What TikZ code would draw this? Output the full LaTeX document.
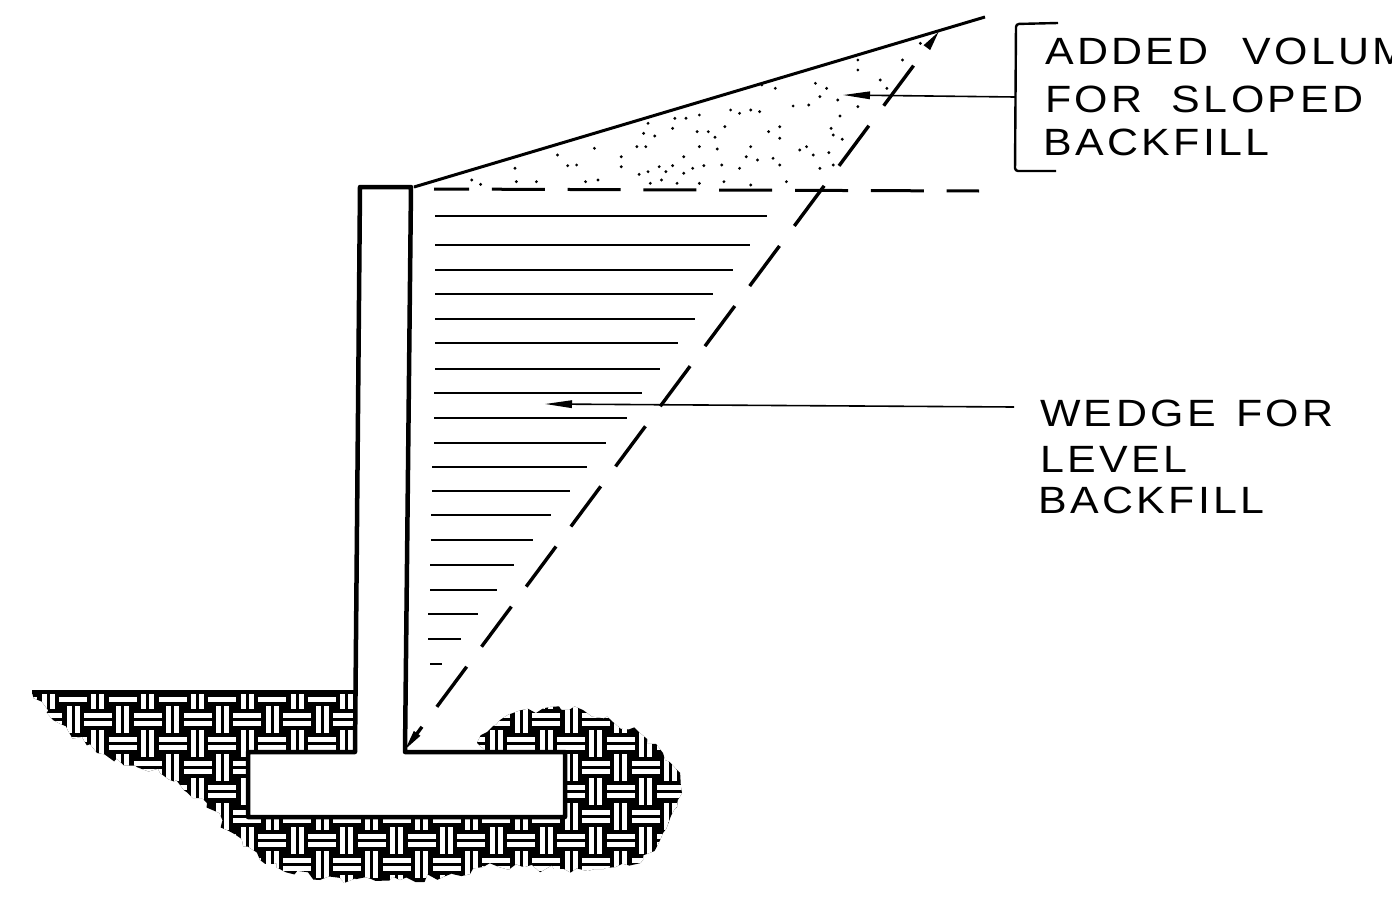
\documentclass[tikz,border=0pt]{standalone}
\usepackage{fontspec}
\setmainfont{Liberation Sans}
\usetikzlibrary{arrows.meta,decorations.pathmorphing}
\newfontfamily\labelfont[FakeStretch=1.13,LetterSpace=9]{Liberation Sans}
\tikzset{
  label text/.style={anchor=base west,inner sep=0pt,outer sep=0pt,font=\labelfont\fontsize{38}{38}\selectfont},
  hatch line/.style={line width=2pt},
  heavy line/.style={line width=4.5pt,line join=round},
  leader/.style={line width=1.6pt,-{Stealth[length=27pt,width=7.5pt,inset=0pt]}},
  wedge edge/.style={line width=3.4pt,dash pattern=on 50pt off 24.9pt,dash phase=41pt,
     {Stealth[length=22pt,width=7pt,inset=0pt]}-{Stealth[length=22pt,width=7pt,inset=0pt]}},
  level line/.style={line width=3pt,dash pattern=on 53pt off 22.8pt,dash phase=18pt},
  bracket line/.style={line width=2.4pt,line join=round,rounded corners=3pt},
  rough edge/.style={decoration={random steps,segment length=7pt,amplitude=4pt}},
}
\begin{document}
\begin{tikzpicture}[x=1pt,y=-1pt]
\useasboundingbox (0,0) rectangle (1392,899);
\clip (0,0) rectangle (1392,899);
\pgfmathsetseed{4242}
% soil
\begin{scope}
\path[clip] (565,752)--(487,752)--(477,743) decorate[rough edge]{--(487,732)--(500,720)--(513,713)--(550,707)--(583,710)--(613,722)--(640,733)--(663,753)--(677,770)--(682,793)--(677,807)--(663,833)--(643,860)--(583,870)--(483,867)--(443,877)--(400,880)--(320,880)--(260,860)--(227,830)--(207,803)--(160,773)--(97,753)--(53,720)--(32,692)}--(355,692)--(355,752)--(248,752)--(248,817)--(565,817)--cycle;
\fill[black] (0,680) rectangle (700,890);
\foreach \r in {0,...,8}{
  \foreach \c in {-2,...,26}{
    \pgfmathsetmacro\cx{73+24.9*\c}
    \pgfmathsetmacro\cy{695+24.2*\r}
    \pgfmathtruncatemacro\cellkind{mod(\r+\c+100,2)}
    \ifnum\cellkind=0
      \fill[white] (\cx-14,\cy-6.5) rectangle (\cx+14,\cy-1.5);
      \fill[white] (\cx-14,\cy+1.5) rectangle (\cx+14,\cy+6.5);
    \else
      \fill[white] (\cx-6.5,\cy-13.5) rectangle (\cx-1.5,\cy+13.5);
      \fill[white] (\cx+1.5,\cy-13.5) rectangle (\cx+6.5,\cy+13.5);
    \fi
  }
}
\end{scope}
% wall and footing
\draw[heavy line] (360,187)--(411,187)--(405,752)--(565,752)--(565,817)--(248,817)--(248,752)--(355,752)--cycle;
\draw[line width=3.6pt] (32,692)--(355,692);
% slope
\draw[line width=3pt] (414,187)--(985,17);
% stipple
\foreach \a/\b in {295/540,315/553,392/505,395/545,440/545,487/465,510/497,530/495,570/445,550/545,578/540,630/470,630/500,670/523,690/515,665/440,685/440,680/400,705/408,745/385,750/355,775/355,805/345,800/395,825/395,862/380,840/412,805/440,845/447,770/470,745/497,730/515,715/500,790/505,815/497,855/495,895/505,920/440,910/470,935/480,970/475,985/495,960/395,985/380,985/415,875/330,895/340,920/330,940/335,1015/318,1050/315,1075/290,1115/300,1065/250,1090/265,975/265,945/255,1120/348,1100/385,1105/405,1125/418,1030/450,1045/440,1060/465,1095/458,1105/495,1075/505,1160/180,1160/210,1260/180,1210/240,1225/265,1160/320,1300/130,720/540,695/550,755/550,805/550,860/545,920/555,1000/545,690/370,770/520}
  \fill ({340+\a/2.24},{\b/3}) circle (1.6pt);
% level backfill line
\coordinate (levelA) at (434,189);
\coordinate (levelB) at (979,191);
\draw[level line] (levelA)--(levelB);
% hatching
\foreach \y/\xa/\xb in {216/435/767,245/435/750,270/435/733,294/435/713,319/435/695,343/435/678,369/435/660,393/434/642,418/434/627,443/434/606,467/432/587,491/432/570,515/431/551,540/431/533,565/430/514,590/430/497,614/428/478,639/428/461,664/430/442}
  \draw[hatch line] (\xa,\y)--(\xb,\y);
% wedge edge
\coordinate (wedgeLow) at (404,751);
\coordinate (wedgeHigh) at (940,30);
\draw[wedge edge] (wedgeLow)--(wedgeHigh);
% bracket
\coordinate (brkTop) at (1058,23);
\coordinate (brkBot) at (1056,171);
\coordinate (brkMid) at (1015,97);
\draw[bracket line] (brkTop)--(1016,24)--(1015,171)--(brkBot);
% leaders
\coordinate (tipVol) at (843,95);
\coordinate (tipWedge) at (545,404);
\coordinate (wedgeOut) at (1014,407);
\draw[leader] (brkMid)--(tipVol);
\draw[leader] (wedgeOut)--(tipWedge);
% labels
\node[label text] (t1) at (1045,65) {ADDED\hspace{18pt} VOLUM};
\node[label text] (t2) at (1045,112) {FOR\hspace{14pt} SLOPED};
\node[label text] (t3) at (1043,155) {BACKFILL};
\node[label text] (t4) at (1040,426) {WEDGE\hspace{5pt} FOR};
\node[label text] (t5) at (1040,472) {LEVEL};
\node[label text] (t6) at (1038,513) {BACKFILL};
\end{tikzpicture}
\end{document}
